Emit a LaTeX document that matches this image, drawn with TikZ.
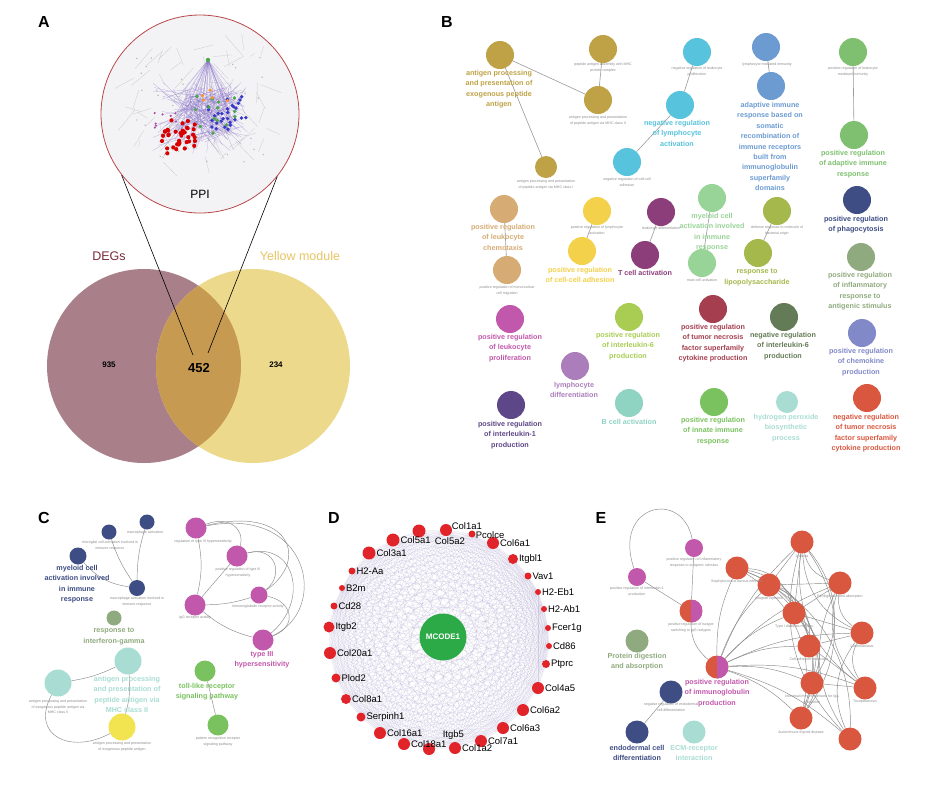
\documentclass[tikz,border=0pt]{standalone}
\usepackage{fontspec}
\setmainfont{Liberation Sans}
\usetikzlibrary{positioning}

\definecolor{goldT}{HTML}{BFA245}
\definecolor{cyanT}{HTML}{58C3DC}
\definecolor{steelT}{HTML}{6C9BD2}
\definecolor{leafT}{HTML}{7EC06F}
\definecolor{tanT}{HTML}{D6AC74}
\definecolor{yelT}{HTML}{F3D14B}
\definecolor{plumT}{HTML}{8C3E7B}
\definecolor{mintG}{HTML}{98D398}
\definecolor{oliveT}{HTML}{A4B84B}
\definecolor{navyT}{HTML}{3E4D84}
\definecolor{sageT}{HTML}{90AA7F}
\definecolor{magT}{HTML}{C258AB}
\definecolor{limeT}{HTML}{A8CD52}
\definecolor{lavT}{HTML}{AB7EBB}
\definecolor{dpurT}{HTML}{5E4789}
\definecolor{aquaT}{HTML}{8FD3C3}
\definecolor{crimT}{HTML}{A53F4F}
\definecolor{dkgrT}{HTML}{637B56}
\definecolor{periT}{HTML}{8189C8}
\definecolor{grnT}{HTML}{7AC25F}
\definecolor{paleT}{HTML}{A9DDD3}
\definecolor{redT}{HTML}{D9573F}
\definecolor{yelC}{HTML}{F2E450}
\definecolor{txtgray}{HTML}{8C8C8C}
\definecolor{linkgray}{HTML}{9A9A9A}
\definecolor{genered}{HTML}{E0242A}
\definecolor{mcode}{HTML}{2DAA48}
\definecolor{ringline}{HTML}{9A90C4}
\definecolor{ppibg}{HTML}{F3F3F5}
\definecolor{ppiring}{HTML}{B8484A}
\definecolor{ppiline}{HTML}{8870C8}
\definecolor{degs}{HTML}{A98089}
\definecolor{yelmod}{HTML}{EDD98C}
\definecolor{overlap}{HTML}{C79A52}
\definecolor{degtxt}{HTML}{7A2A3C}
\definecolor{ymtxt}{HTML}{E8C462}

\pgfdeclarelayer{background}
\pgfsetlayers{background,main}

\tikzset{
  panel/.style={font=\fontsize{16}{16}\selectfont\bfseries},
  term/.style={circle, inner sep=0pt, minimum size=28pt},
  tlbl/.style={anchor=north, align=center, inner sep=0pt, font=\fontsize{7.2}{10.4}\selectfont\bfseries},
  tsmall/.style={anchor=north, align=center, inner sep=0pt, text=txtgray, font=\fontsize{3.6}{5.4}\selectfont},
  link/.style={draw=linkgray, line width=0.6pt},
  clink/.style={draw=linkgray!90!black, line width=0.45pt},
  gene/.style={circle, inner sep=0pt, fill=genered},
  genetxt/.style={inner sep=0.6pt, font=\fontsize{9.5}{11}\selectfont},
  ringedge/.style={draw=ringline, line width=0.22pt, opacity=0.32},
}

\begin{document}
\begin{tikzpicture}[x=1pt,y=-1pt]
\useasboundingbox (0,0) rectangle (925,788);
\begin{pgfonlayer}{background}
\fill[white] (0,0) rectangle (925,788);
\end{pgfonlayer}

% ---------------- A
\node[panel] (pA) at (44,22) {A};
\node[circle, minimum size=198pt, inner sep=0pt, fill=ppibg, draw=ppiring, line width=0.8pt] (ppi) at (200,114) {};
\begin{scope}
  \clip (200,114) circle (94);
  \pgfmathsetseed{11}
  \foreach \k in {1,...,70}
    \draw[gray!45, line width=0.25pt] (200+68*rand,108+58*rand) -- ++(22*rand,22*rand);
  \foreach \k in {1,...,170}
    \draw[ppiline, line width=0.22pt, opacity=0.6] (198+50*rand,118+36*rand) -- (212+28*rand,108+22*rand);
  \foreach \k in {1,...,35}
    \draw[ppiline, line width=0.22pt, opacity=0.6] (208,60) -- (205+30*rand,110+22*rand);
  \foreach \k in {1,...,45}
    \fill[gray!55] (200+65*rand,110+55*rand) circle (0.8);
  \foreach \k in {1,...,38}
    \fill[red!85!black] (178+17*rand,137+17*rand) circle (2.1);
  \foreach \k in {1,...,28}
    \fill[blue!55!gray] (226+20*rand,113+17*rand) circle (1.9);
  \foreach \k in {1,...,14}
    \fill[green!50!black!70] (214+24*rand,118+22*rand) circle (1.9);
  \foreach \k in {1,...,5}
    \fill[orange!85] (215+15*rand,98+8*rand) circle (1.7);
  \foreach \k in {1,...,8}
    \fill[violet!70] (165+12*rand,118+10*rand) circle (1.2);
  \fill[green!50!black!70] (208,60) circle (2.2);
\end{scope}
\node[font=\fontsize{12}{12}\selectfont] (ppit) at (200,194) {PPI};

\fill[degs] (144,366) circle (97);
\fill[yelmod] (253,366) circle (97);
\begin{scope}
  \clip (144,366) circle (97);
  \fill[overlap] (253,366) circle (97);
\end{scope}
\node[font=\fontsize{12.5}{12.5}\selectfont, text=degtxt] (degs) at (109,256) {DEGs};
\node[font=\fontsize{12.5}{12.5}\selectfont, text=ymtxt] (ymod) at (300,256) {Yellow module};
\node[font=\fontsize{8}{8}\selectfont\bfseries] (n935) at (109,365) {935};
\node[font=\fontsize{13}{13}\selectfont\bfseries] (n452) at (199,368) {452};
\node[font=\fontsize{8}{8}\selectfont\bfseries] (n234) at (276,365) {234};
\coordinate (l452) at (193,355);
\coordinate (r452) at (208,353);
\draw[line width=0.6pt] (ppi.218) -- (l452);
\draw[line width=0.6pt] (ppi.321) -- (r452);

% ---------------- B
\node[panel] (pB) at (447,22) {B};
\foreach \n/\x/\y/\s/\c in {b1/500/55/28/goldT, b2/603/49/28/goldT, b3/598/100/28/goldT, b4/546/167/22/goldT,
  b5/697/52/28/cyanT, b6/680/105/28/cyanT, b7/627/162/28/cyanT, b8/766/47/28/steelT, b9/771/86/28/steelT,
  b10/853/52/28/leafT, b11/854/135/28/leafT, b12/504/209/28/tanT, b13/507/270/28/tanT,
  b14/597/211/28/yelT, b15/582/251/28/yelT, b16/661/212/28/plumT, b17/645/255/28/plumT,
  b18/712/198/28/mintG, b19/702/263/28/mintG, b20/777/211/28/oliveT, b21/758/253/28/oliveT,
  b22/857/200/28/navyT, b23/861/257/28/sageT, b24/510/319/28/magT, b25/629/317/28/limeT,
  b26/575/366/28/lavT, b27/511/405/28/dpurT, b28/629/403/28/aquaT, b29/713/309/28/crimT,
  b30/784/317/28/dkgrT, b31/862/333/28/periT, b32/714/402/28/grnT, b33/787/402/22/paleT, b34/867/398/28/redT}
  \node[term, minimum size=\s pt, fill=\c] (\n) at (\x,\y) {};
\begin{pgfonlayer}{background}
\foreach \a/\b in {b1/b3, b1/b4, b2/b3, b5/b6, b6/b7, b8/b9, b10/b11, b12/b13, b14/b15, b16/b17, b18/b19, b20/b21}
  \draw[link] (\a) -- (\b);
\end{pgfonlayer}

\node[tlbl, text=goldT] at (499,70) {antigen processing\\and presentation of\\exogenous peptide\\antigen};
\node[tsmall] at (603,63) {peptide antigen assembly with MHC\\protein complex};
\node[tsmall] at (598,116) {antigen processing and presentation\\of peptide antigen via MHC class II};
\node[tsmall] at (546,180) {antigen processing and presentation\\of peptide antigen via MHC class I};
\node[tsmall] at (697,67) {negative regulation of leukocyte\\proliferation};
\node[tlbl, text=cyanT] at (677,120) {negative regulation\\of lymphocyte\\activation};
\node[tsmall] at (627,178) {negative regulation of cell-cell\\adhesion};
\node[tsmall] at (767,63) {lymphocyte mediated immunity};
\node[tlbl, text=steelT] at (770,102) {adaptive immune\\response based on\\somatic\\recombination of\\immune receptors\\built from\\immunoglobulin\\superfamily\\domains};
\node[tsmall] at (853,67) {positive regulation of leukocyte\\mediated immunity};
\node[tlbl, text=leafT] at (853,150) {positive regulation\\of adaptive immune\\response};
\node[tlbl, text=tanT] at (503,224) {positive regulation\\of leukocyte\\chemotaxis};
\node[tsmall] at (507,286) {positive regulation of mononuclear\\cell migration};
\node[tsmall] at (597,226) {positive regulation of lymphocyte\\activation};
\node[tlbl, text=yelT] at (580,267) {positive regulation\\of cell-cell adhesion};
\node[tsmall] at (661,227) {leukocyte differentiation};
\node[tlbl, text=plumT] at (645,270) {T cell activation};
\node[tlbl, text=mintG] at (712,213) {myeloid cell\\activation involved\\in immune\\response};
\node[tsmall] at (702,279) {mast cell activation};
\node[tsmall] at (777,226) {defense response to molecule of\\bacterial origin};
\node[tlbl, text=oliveT] at (757,269) {response to\\lipopolysaccharide};
\node[tlbl, text=navyT] at (856,216) {positive regulation\\of phagocytosis};
\node[tlbl, text=sageT] at (860,272) {positive regulation\\of inflammatory\\response to\\antigenic stimulus};
\node[tlbl, text=magT] at (510,334) {positive regulation\\of leukocyte\\proliferation};
\node[tlbl, text=limeT] at (628,332) {positive regulation\\of interleukin-6\\production};
\node[tlbl, text=lavT] at (574,382) {lymphocyte\\differentiation};
\node[tlbl, text=dpurT] at (510,421) {positive regulation\\of interleukin-1\\production};
\node[tlbl, text=aquaT] at (629,419) {B cell activation};
\node[tlbl, text=crimT] at (713,324) {positive regulation\\of tumor necrosis\\factor superfamily\\cytokine production};
\node[tlbl, text=dkgrT] at (783,332) {negative regulation\\of interleukin-6\\production};
\node[tlbl, text=periT] at (861,348) {positive regulation\\of chemokine\\production};
\node[tlbl, text=grnT] at (713,417) {positive regulation\\of innate immune\\response};
\node[tlbl, text=paleT] at (786,414) {hydrogen peroxide\\biosynthetic\\process};
\node[tlbl, text=redT] at (866,414) {negative regulation\\of tumor necrosis\\factor superfamily\\cytokine production};

% ---------------- C
\node[panel] (pC) at (44,518) {C};
\foreach \n/\x/\y/\s/\c in {c1/147/522/15/navyT, c2/109/532/15/navyT, c3/78/556/17/navyT, c4/137/588/16/navyT,
  c5/114/618/15/sageT, c6/128/661/27/paleT, c7/58/683/27/paleT, c8/122/727/27/yelC,
  m1/196/528/21/magT, m2/237/556/21/magT, m3/259/595/17/magT, m4/195/605/21/magT, m5/263/640/21/magT,
  t1/205/671/21/grnT, t2/218/725/21/grnT}
  \node[term, minimum size=\s pt, fill=\c] (\n) at (\x,\y) {};
\begin{pgfonlayer}{background}
\draw[clink] (c1) to[bend right=8] (c4);
\draw[clink] (c2) to[bend right=8] (c4);
\draw[clink] (c3) to[bend right=20] (c4);
\draw[clink] (c7) to[bend right=8] (c6);
\draw[clink] (c6) to[bend left=10] (c8);
\draw[clink] (c7) .. controls (30,735) and (70,755) .. (c8);
\draw[clink] (m1) .. controls (310,505) and (330,610) .. (m5);
\draw[clink] (m1) .. controls (290,505) and (310,560) .. (m3);
\draw[clink] (m1) .. controls (230,515) and (245,530) .. (m2);
\draw[clink] (m1) to[bend left=12] (m4);
\draw[clink] (m2) .. controls (295,540) and (310,600) .. (m5);
\draw[clink] (m2) .. controls (275,545) and (285,575) .. (m3);
\draw[clink] (m2) -- (m4);
\draw[clink] (m4) to[bend right=8] (m3);
\draw[clink] (m4) to[bend right=12] (m5);
\draw[clink] (m3) .. controls (290,600) and (300,625) .. (m5);
\draw[clink] (t1) -- (t2);
\end{pgfonlayer}
\node[tsmall] at (145,531) {macrophage activation};
\node[tsmall] at (110,541) {microglial cell activation involved in\\immune response};
\node[tlbl, text=navyT] at (77,565) {myeloid cell\\activation involved\\in immune\\response};
\node[tsmall] at (137,597) {macrophage activation involved in\\immune response};
\node[tlbl, text=sageT] at (114,628) {response to\\interferon-gamma};
\node[tlbl, text=paleT] at (127,676) {antigen processing\\and presentation of\\peptide antigen via\\MHC class II};
\node[tsmall] at (58,700) {antigen processing and presentation\\of exogenous peptide antigen via\\MHC class II};
\node[tsmall] at (122,742) {antigen processing and presentation\\of exogenous peptide antigen};
\node[tsmall] at (203,540) {regulation of type III hypersensitivity};
\node[tsmall] at (238,568) {positive regulation of type III\\hypersensitivity};
\node[tsmall] at (258,605) {immunoglobulin receptor activity};
\node[tsmall] at (195,616) {IgG receptor activity};
\node[tlbl, text=magT] at (262,651) {type III\\hypersensitivity};
\node[tlbl, text=grnT] at (207,683) {toll-like receptor\\signaling pathway};
\node[tsmall] at (218,737) {pattern recognition receptor\\signaling pathway};

% ---------------- D
\node[panel] (pD) at (334,518) {D};
\node[circle, inner sep=0pt, minimum size=47pt, fill=mcode, text=white, font=\fontsize{8}{8}\selectfont\bfseries] (mc) at (443,637) {MCODE1};
\foreach \n/\x/\y/\d in {1/446/530/12, 2/472/534/7, 3/493/543/12, 4/513/559/10, 5/528/576/7, 6/538/592/6,
  7/544/609/6, 8/548/628/6, 9/549/646/6, 10/546/664/8, 11/538/688/12, 12/523/710/12, 13/503/728/12,
  14/481/741/12, 15/455/748/12, 16/429/749/12, 17/404/744/12, 18/380/733/12, 19/361/717/9, 20/346/699/10,
  21/336/678/9, 22/330/653/12, 23/329/627/11, 24/334/606/7, 25/342/588/6, 26/352/571/7, 27/369/553/13,
  28/393/540/13, 29/419/531/13}
  \node[gene, minimum size=\d pt] (d\n) at (\x,\y) {};
\foreach \n/\t in {3/Col6a1, 4/Itgbl1, 5/Vav1, 6/H2-Eb1, 7/H2-Ab1, 8/Fcer1g, 9/Cd86,
  10/Ptprc, 11/Col4a5, 12/Col6a2, 13/Col6a3, 14/Col7a1, 15/Col1a2, 17/Col18a1, 18/Col16a1, 19/Serpinh1,
  20/Col8a1, 21/Plod2, 22/Col20a1, 23/Itgb2, 24/Cd28, 25/B2m, 26/H2-Aa, 27/Col3a1, 28/Col5a1}
  \node[genetxt, right=0pt of d\n] {\t};
\node[genetxt, anchor=west] at (451,526) {Col1a1};
\node[genetxt, anchor=west] at (475,535.5) {Pcolce};
\node[genetxt, anchor=west] at (434,541) {Col5a2};
\node[genetxt, anchor=west] at (442,735) {Itgb5};
\begin{pgfonlayer}{background}
\foreach \i in {1,...,28}{
  \pgfmathtruncatemacro\jst{\i+1}
  \foreach \j in {\jst,...,29}
    \draw[ringedge] (d\i) -- (d\j);
}
\end{pgfonlayer}

% ---------------- E
\node[panel] (pE) at (601,518) {E};
\foreach \n/\x/\y/\s/\c in {e1/694/548/18/magT, e2/637/577/18/magT, e4/637/641/23/sageT,
  e6/671/692/23/navyT, e7/637/732/23/navyT, e8/694/732/23/paleT,
  r0/737/568/23/redT, r1/802/542/23/redT, r2/769/585/23/redT, r3/840/583/23/redT, r4/794/613/23/redT,
  r5/809/646/23/redT, r6/862/633/23/redT, r7/812/683/23/redT, r8/865/688/23/redT, r9/801/718/23/redT,
  r10/850/739/23/redT}
  \node[term, minimum size=\s pt, fill=\c] (\n) at (\x,\y) {};
\foreach \n/\x/\y in {e3/691/611, e5/717/667}
  \node[term, minimum size=23pt, fill=redT,
    path picture={\fill[magT] (path picture bounding box.north) rectangle (path picture bounding box.south east);}] (\n) at (\x,\y) {};
\begin{pgfonlayer}{background}
\draw[clink] (e2) .. controls (612,505) and (682,488) .. (e1);
\draw[clink] (e1) -- (e3);
\draw[clink] (e2) -- (e3);
\draw[clink] (e3) to[bend right=25] (e5);
\draw[clink] (e6) -- (e7);
\foreach \t in {r0,r1,r2,r3,r4,r5,r6,r7,r8,r9,r10}
  \draw[clink] (e5) to[bend left=12] (\t);
\foreach \a/\b in {r0/r9, r0/r7, r2/r9, r2/r7, r0/r5, r2/r5, r4/r9, r4/r7, r0/r4, r1/r9, r1/r7, r2/r4, r0/r10}
  \draw[clink] (\a) to[bend left=35] (\b);
\foreach \a/\b in {r1/r8, r1/r6, r3/r8, r3/r10, r6/r10, r1/r10, r3/r6, r6/r8, r1/r3}
  \draw[clink] (\a) to[bend right=30] (\b);
\foreach \a/\b in {r1/r4, r3/r4, r4/r6, r5/r6, r5/r8, r7/r8, r1/r2, r2/r3, r7/r9}
  \draw[clink] (\a) -- (\b);
\end{pgfonlayer}
\node[tsmall] at (694,558) {positive regulation of inflammatory\\response to antigenic stimulus};
\node[tsmall] at (637,587) {positive regulation of interleukin-1\\production};
\node[tsmall] at (691,623) {positive regulation of isotype\\switching to IgG isotypes};
\node[tlbl, text=sageT] at (637,653) {Protein digestion\\and absorption};
\node[tlbl, text=magT] at (717,679) {positive regulation\\of immunoglobulin\\production};
\node[tsmall] at (671,703) {negative regulation of endodermal\\cell differentiation};
\node[tlbl, text=navyT] at (637,745) {endodermal cell\\differentiation};
\node[tlbl, text=paleT] at (694,745) {ECM-receptor\\interaction};
\node[tsmall] at (737,580) {Staphylococcus aureus infection};
\node[tsmall] at (802,555) {Asthma};
\node[tsmall] at (769,597) {Allograft rejection};
\node[tsmall] at (840,595) {Fat digestion and absorption};
\node[tsmall] at (794,625) {Type I diabetes mellitus};
\node[tsmall] at (809,658) {Cell adhesion molecules};
\node[tsmall] at (862,645) {Leishmaniasis};
\node[tsmall] at (812,695) {Intestinal immune network for IgA\\production};
\node[tsmall] at (865,700) {Toxoplasmosis};
\node[tsmall] at (801,731) {Autoimmune thyroid disease};
\end{tikzpicture}
\end{document}
